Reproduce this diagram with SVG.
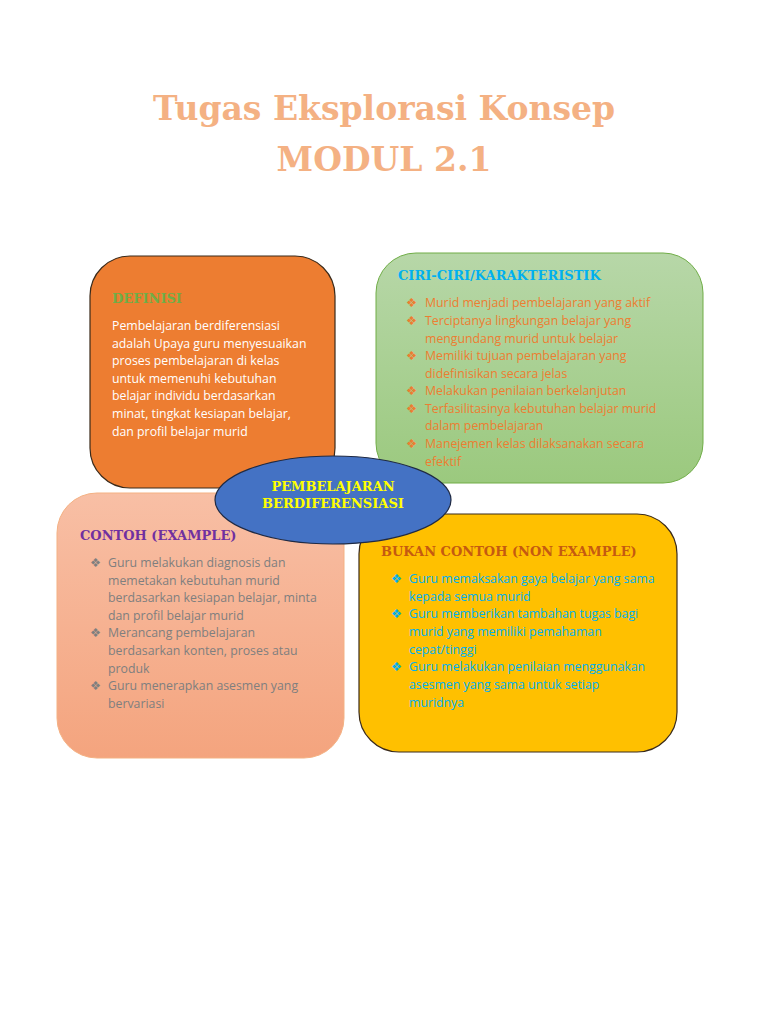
<svg xmlns="http://www.w3.org/2000/svg" width="768" height="1024" viewBox="0 0 768 1024">
<style>
.t{font-family:"DejaVu Serif",serif;font-weight:bold;font-size:33px;fill:#F4B183;text-anchor:middle}
.h{font-family:"DejaVu Serif",serif;font-weight:bold;font-size:13px}
.b{font-family:"Open Sans","DejaVu Sans",sans-serif;font-size:12.3px}
</style>
<defs>
<linearGradient id="g1" x1="0" y1="0" x2="0" y2="1"><stop offset="0" stop-color="#B7D7A8"/><stop offset="1" stop-color="#9BC97E"/></linearGradient>
<linearGradient id="g2" x1="0" y1="0" x2="0" y2="1"><stop offset="0" stop-color="#F8BFA5"/><stop offset="1" stop-color="#F4A47E"/></linearGradient>
</defs>
<rect width="768" height="1024" fill="#fff"/>
<text class="t" x="384" y="120">Tugas Eksplorasi Konsep</text>
<text class="t" x="384" y="171">MODUL 2.1</text>
<g id="definisi">
<rect x="90" y="256" width="245" height="232" rx="40" fill="#ED7D31" stroke="#3a2a1a" stroke-width="1.2"/>
<text class="h" x="112" y="303" fill="#70AD47" font-size="12">DEFINISI</text>
<g class="b" fill="#fff">
<text x="112" y="330">Pembelajaran berdiferensiasi</text>
<text x="112" y="348">adalah Upaya guru menyesuaikan</text>
<text x="112" y="365">proses pembelajaran di kelas</text>
<text x="112" y="383">untuk memenuhi kebutuhan</text>
<text x="112" y="400">belajar individu berdasarkan</text>
<text x="112" y="418">minat, tingkat kesiapan belajar,</text>
<text x="112" y="436">dan profil belajar murid</text>
</g>
</g>
<g id="ciri">
<rect x="376" y="253" width="327" height="230" rx="40" fill="url(#g1)" stroke="#70AD47" stroke-width="1"/>
<text class="h" x="398" y="280" fill="#00B0F0">CIRI-CIRI/KARAKTERISTIK</text>
<g class="b" fill="#ED7D31">
<text x="406" y="307">❖</text><text x="425" y="307">Murid menjadi pembelajaran yang aktif</text>
<text x="406" y="325">❖</text><text x="425" y="325">Terciptanya lingkungan belajar yang</text>
<text x="425" y="343">mengundang murid untuk belajar</text>
<text x="406" y="360">❖</text><text x="425" y="360">Memiliki tujuan pembelajaran yang</text>
<text x="425" y="378">didefinisikan secara jelas</text>
<text x="406" y="395">❖</text><text x="425" y="395">Melakukan penilaian berkelanjutan</text>
<text x="406" y="413">❖</text><text x="425" y="413">Terfasilitasinya kebutuhan belajar murid</text>
<text x="425" y="430">dalam pembelajaran</text>
<text x="406" y="448">❖</text><text x="425" y="448">Manejemen kelas dilaksanakan secara</text>
<text x="425" y="466">efektif</text>
</g>
</g>
<g id="contoh">
<rect x="57" y="493" width="287" height="265" rx="40" fill="url(#g2)" stroke="#F4B183" stroke-width="1"/>
<text class="h" x="80" y="540" fill="#7030A0">CONTOH (EXAMPLE)</text>
<g class="b" fill="#7F7F7F">
<text x="90" y="567">❖</text><text x="108" y="567">Guru melakukan diagnosis dan</text>
<text x="108" y="585">memetakan kebutuhan murid</text>
<text x="108" y="602">berdasarkan kesiapan belajar, minta</text>
<text x="108" y="620">dan profil belajar murid</text>
<text x="90" y="637">❖</text><text x="108" y="637">Merancang pembelajaran</text>
<text x="108" y="655">berdasarkan konten, proses atau</text>
<text x="108" y="673">produk</text>
<text x="90" y="690">❖</text><text x="108" y="690">Guru menerapkan asesmen yang</text>
<text x="108" y="708">bervariasi</text>
</g>
</g>
<g id="bukan">
<rect x="359" y="514" width="318" height="238" rx="40" fill="#FFC000" stroke="#3a2a1a" stroke-width="1.2"/>
<text class="h" x="381" y="556" fill="#C55A11">BUKAN CONTOH (NON EXAMPLE)</text>
<g class="b" fill="#00B0F0">
<text x="391" y="583">❖</text><text x="409" y="583">Guru memaksakan gaya belajar yang sama</text>
<text x="409" y="601">kepada semua murid</text>
<text x="391" y="618">❖</text><text x="409" y="618">Guru memberikan tambahan tugas bagi</text>
<text x="409" y="636">murid yang memiliki pemahaman</text>
<text x="409" y="654">cepat/tinggi</text>
<text x="391" y="671">❖</text><text x="409" y="671">Guru melakukan penilaian menggunakan</text>
<text x="409" y="689">asesmen yang sama untuk setiap</text>
<text x="409" y="707">muridnya</text>
</g>
</g>
<g id="pusat">
<ellipse cx="333" cy="500" rx="118" ry="44" fill="#4472C4" stroke="#1F2A44" stroke-width="1.2"/>
<text class="h" x="333" y="491" fill="#FFFF00" text-anchor="middle" font-size="12">PEMBELAJARAN</text>
<text class="h" x="333" y="508" fill="#FFFF00" text-anchor="middle" font-size="12">BERDIFERENSIASI</text>
</g>
</svg>
